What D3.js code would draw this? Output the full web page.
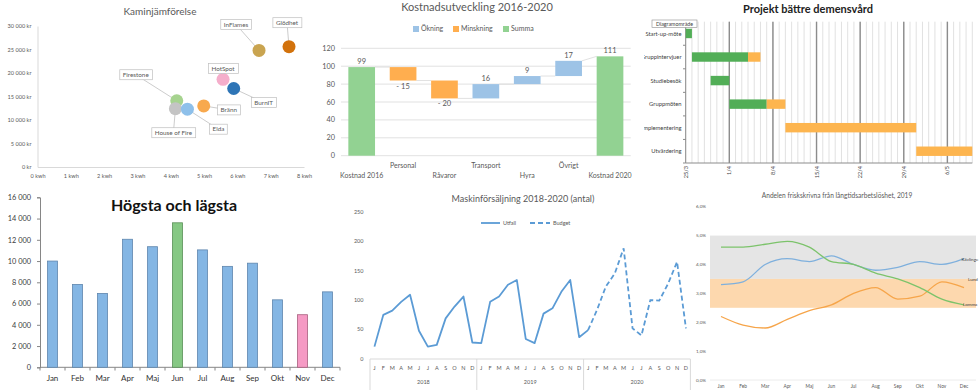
<!DOCTYPE html>
<html lang="sv">
<head>
<meta charset="utf-8">
<script src="https://d3js.org/d3.v7.min.js" charset="utf-8"></script>
<title>Diagram</title>
<style>
 body { margin: 0; background: #fff; }
 svg { display: block; font-family: Lato, "Open Sans", sans-serif; }
</style>
</head>
<body>
<svg width="980" height="390"></svg>
<script>
// ---- data: Kaminjämförelse
var stoves = ["InFlames", "Glödhet", "HotSpot", "BurnIT", "Bränn", "Firestone", "House of Fire", "Elda"];
var stoveKwh = [6.65, 7.55, 5.57, 5.89, 4.99, 4.18, 4.14, 4.5];
var stovePrice = [24800, 25600, 18650, 16700, 13000, 14100, 12400, 12300];

// ---- data: Kostnadsutveckling
var wfCats = ["Kostnad 2016", "Personal", "Råvaror", "Transport", "Hyra", "Övrigt", "Kostnad 2020"];
var wfValues = [99, -15, -20, 16, 9, 17, 111];
var wfTypes = ["Summa", "Minskning", "Minskning", "Ökning", "Ökning", "Ökning", "Summa"];
var wfLegend = ["Ökning", "Minskning", "Summa"];

// ---- data: Projekt bättre demensvård
var tasks = ["Start-up-möte", "Gruppintervjuer", "Studiebesök", "Gruppmöten", "Implementering", "Utvärdering"];
var taskStart = ["2020-03-25", "2020-03-26", "2020-03-29", "2020-04-01", "2020-04-10", "2020-05-01"];
var taskDone = [1, 9, 3, 6, 0, 0];
var taskLeft = [0, 2, 0, 3, 21, 9];

// ---- data: Högsta och lägsta
var months = ["Jan", "Feb", "Mar", "Apr", "Maj", "Jun", "Jul", "Aug", "Sep", "Okt", "Nov", "Dec"];
var monthValues = [10000, 7800, 6950, 12050, 11350, 13600, 11050, 9500, 9800, 6350, 4950, 7100];

// ---- data: Maskinförsäljning
var salesMonths = ["J", "F", "M", "A", "M", "J", "J", "A", "S", "O", "N", "D"];
var salesYears = ["2018", "2019", "2020"];
var utfall = [21, 75, 82, 97, 109, 48, 21, 24, 69, 89, 106, 28,
              27, 97, 106, 126, 134, 34, 27, 77, 86, 114, 134, 37,
              49];
var budget = [49, 83, 123, 145, 188, 52, 40, 100, 99, 128, 165, 52];

// ---- data: Andelen friskskrivna
var rateMonths = ["Jan", "Feb", "Mar", "Apr", "Maj", "Jun", "Jul", "Aug", "Sep", "Okt", "Nov", "Dec"];
var rateNames = ["Kävlinge", "Lund", "Lomma"];
var kavlinge = [3.3, 3.4, 4.0, 4.2, 4.1, 4.3, 4.0, 3.8, 3.9, 4.1, 4.0, 4.2];
var lund = [2.2, 1.9, 1.8, 2.1, 2.4, 2.6, 3.0, 3.2, 2.8, 2.9, 3.4, 3.2];
var lomma = [4.6, 4.6, 4.7, 4.8, 4.6, 4.1, 4.0, 3.7, 3.5, 3.2, 2.8, 2.6];
var grayBand = [3.5, 5.0];
var orangeBand = [2.5, 3.5];

var svg = d3.select("svg");
var sv = d3.formatLocale({decimal: ",", thousands: " ", grouping: [3], currency: ["", " kr"]});
var fmtThousands = sv.format(",");
var grey = "#595959";

// =============== 1. Kaminjämförelse (bubble scatter)
var g1 = svg.append("g");
var x1 = d3.scaleLinear().domain([0, 8]).range([37.5, 304]);
var y1 = d3.scaleLinear().domain([0, 30000]).range([167, 26]);
var stoveColors = ["#c9a450", "#d2720c", "#f5aecb", "#2e75b6", "#f8a94e", "#a6d38f", "#c4c4c4", "#8ec0ea"];
var stoveLabelOffset = [[-23, -26], [-2, -24], [0, -11], [30, 14], [25, 4], [-41, -26], [-2, 24], [31, 20]];

g1.append("text").attr("x", 160).attr("y", 15).attr("text-anchor", "middle")
  .style("font-size", "10px").attr("fill", grey).text("Kaminjämförelse");

var ax1 = g1.append("g").attr("transform", "translate(37.5,0)")
  .call(d3.axisLeft(y1).tickValues(d3.range(0, 30001, 5000)).tickSize(0).tickPadding(6)
    .tickFormat(function(d) { return fmtThousands(d) + " kr"; }));
var bx1 = g1.append("g").attr("transform", "translate(0,167)")
  .call(d3.axisBottom(x1).ticks(8).tickSize(0).tickPadding(7)
    .tickFormat(function(d) { return d + " kwh"; }));
[ax1, bx1].forEach(function(a) {
  a.select(".domain").attr("stroke", "#d9d9d9");
  a.selectAll("text").attr("fill", grey).style("font-size", "5.6px").style("font-family", "Lato, sans-serif");
});

var stoveData = stoves.map(function(n, i) {
  return {name: n, kwh: stoveKwh[i], price: stovePrice[i], color: stoveColors[i], off: stoveLabelOffset[i]};
});

g1.selectAll(".leader").data(stoveData).enter().append("line")
  .attr("x1", function(d) { return x1(d.kwh); })
  .attr("y1", function(d) { return y1(d.price); })
  .attr("x2", function(d) { return x1(d.kwh) + d.off[0]; })
  .attr("y2", function(d) { return y1(d.price) + d.off[1]; })
  .attr("stroke", "#bfbfbf").attr("stroke-width", 0.8);

g1.selectAll(".bubble").data(stoveData).enter().append("circle")
  .attr("cx", function(d) { return x1(d.kwh); })
  .attr("cy", function(d) { return y1(d.price); })
  .attr("r", 6.5)
  .attr("fill", function(d) { return d.color; });

var lab1 = g1.selectAll(".lab").data(stoveData).enter().append("g")
  .attr("transform", function(d) { return "translate(" + (x1(d.kwh) + d.off[0]) + "," + (y1(d.price) + d.off[1]) + ")"; });
lab1.append("text").attr("text-anchor", "middle").attr("dy", "0.35em")
  .style("font-size", "6.3px").attr("fill", grey).text(function(d) { return d.name; });
lab1.each(function() {
  var gg = d3.select(this), bb = gg.select("text").node().getBBox();
  gg.insert("rect", "text").attr("x", bb.x - 3).attr("y", -5).attr("width", bb.width + 6).attr("height", 10)
    .attr("fill", "#fff").attr("stroke", "#bfbfbf").attr("stroke-width", 0.7);
});

// =============== 2. Kostnadsutveckling (waterfall)
var g2 = svg.append("g");
var x2 = d3.scaleBand().domain(wfCats).range([341, 630.7]).paddingInner(0.355).paddingOuter(0.1775);
var y2 = d3.scaleLinear().domain([0, 120]).range([155.7, 48.3]);
var wfColor = {"Ökning": "#9dc3e6", "Minskning": "#ffae4f", "Summa": "#92d292"};

var run = 0;
var wf = wfCats.map(function(c, i) {
  var v = wfValues[i], d = {cat: c, type: wfTypes[i], value: v};
  if (wfTypes[i] === "Summa") { d.start = 0; d.end = v; run = v; }
  else { d.start = run; d.end = run + v; run = d.end; }
  return d;
});

g2.append("text").attr("x", 477).attr("y", 11).attr("text-anchor", "middle")
  .style("font-size", "11px").attr("fill", grey).text("Kostnadsutveckling 2016-2020");

var leg2 = g2.selectAll(".leg").data(wfLegend).enter().append("g")
  .attr("transform", function(d, i) { return "translate(" + [416, 456, 506][i] + ",29)"; });
leg2.append("rect").attr("x", -3).attr("y", -3).attr("width", 6).attr("height", 6)
  .attr("fill", function(d) { return wfColor[d]; });
leg2.append("text").attr("x", 5).attr("dy", "0.35em").style("font-size", "7px").attr("fill", grey)
  .text(function(d) { return d; });

g2.selectAll(".grid").data(y2.ticks(6)).enter().append("line")
  .attr("x1", 341).attr("x2", 630.7)
  .attr("y1", function(d) { return y2(d); }).attr("y2", function(d) { return y2(d); })
  .attr("stroke", "#d9d9d9").attr("stroke-width", 0.8);

g2.selectAll(".ylab").data(y2.ticks(6)).enter().append("text")
  .attr("x", 335).attr("y", function(d) { return y2(d); }).attr("dy", "0.35em")
  .attr("text-anchor", "end").style("font-size", "7.3px").attr("fill", grey).text(function(d) { return d; });

g2.selectAll(".conn").data(wf.slice(0, -1)).enter().append("line")
  .attr("x1", function(d) { return x2(d.cat) + x2.bandwidth(); })
  .attr("x2", function(d, i) { return x2(wf[i + 1].cat); })
  .attr("y1", function(d) { return y2(d.end); })
  .attr("y2", function(d, i) { return y2(wf[i + 1].type === "Summa" ? wf[i + 1].end : wf[i + 1].start); })
  .attr("stroke", "#d9d9d9").attr("stroke-width", 0.8);

g2.selectAll(".bar").data(wf).enter().append("rect")
  .attr("x", function(d) { return x2(d.cat); })
  .attr("width", x2.bandwidth())
  .attr("y", function(d) { return y2(Math.max(d.start, d.end)); })
  .attr("height", function(d) { return Math.abs(y2(d.start) - y2(d.end)); })
  .attr("fill", function(d) { return wfColor[d.type]; });

g2.selectAll(".vlab").data(wf).enter().append("text")
  .attr("x", function(d) { return x2(d.cat) + x2.bandwidth() / 2; })
  .attr("y", function(d) { return d.value < 0 ? y2(d.end) + 8 : y2(d.end) - 3; })
  .attr("text-anchor", "middle").style("font-size", "7.5px").attr("fill", grey)
  .text(function(d) { return d.value < 0 ? "- " + (-d.value) : d.value; });

g2.selectAll(".clab").data(wfCats).enter().append("text")
  .attr("x", function(d) { return x2(d) + x2.bandwidth() / 2; })
  .attr("y", function(d, i) { return i % 2 === 0 ? 178 : 168; })
  .attr("text-anchor", "middle").style("font-size", "7px").attr("fill", grey).text(function(d) { return d; });

// =============== 3. Projekt bättre demensvård (Gantt)
svg.append("clipPath").attr("id", "clip3").append("rect")
  .attr("x", 644).attr("y", 0).attr("width", 336).attr("height", 185);
var g3 = svg.append("g").attr("clip-path", "url(#clip3)");
var parseDay = d3.timeParse("%Y-%m-%d");
var t0 = parseDay(taskStart[0]), t1 = d3.timeDay.offset(t0, 46);
var x3 = d3.scaleTime().domain([t0, t1]).range([685.7, 972.3]);
var y3 = d3.scaleBand().domain(tasks).range([21.7, 163]).paddingInner(0.6).paddingOuter(0.3);

g3.append("text").attr("x", 808).attr("y", 13).attr("text-anchor", "middle")
  .style("font-size", "11px").style("font-weight", "bold").attr("fill", "#222").text("Projekt bättre demensvård");

var days = d3.timeDay.range(t0, d3.timeDay.offset(t1, 1));
g3.selectAll(".dline").data(days).enter().append("line")
  .attr("x1", function(d) { return x3(d); }).attr("x2", function(d) { return x3(d); })
  .attr("y1", 21.7).attr("y2", 163).attr("stroke", "#d9d9d9").attr("stroke-width", 0.8);
var weeks = d3.timeDay.range(t0, t1, 7);
g3.selectAll(".wline").data(weeks.slice(1)).enter().append("line")
  .attr("x1", function(d) { return x3(d); }).attr("x2", function(d) { return x3(d); })
  .attr("y1", 21.7).attr("y2", 163).attr("stroke", "#8c8c8c").attr("stroke-width", 1.4);

g3.append("line").attr("x1", 685.7).attr("x2", 685.7).attr("y1", 21.7).attr("y2", 163).attr("stroke", "#8c8c8c");
g3.append("line").attr("x1", 685.7).attr("x2", 972.3).attr("y1", 163).attr("y2", 163).attr("stroke", "#8c8c8c");
g3.selectAll(".ytick").data(d3.range(tasks.length + 1)).enter().append("line")
  .attr("x1", 683).attr("x2", 685.7)
  .attr("y1", function(i) { return 21.7 + i * y3.step(); }).attr("y2", function(i) { return 21.7 + i * y3.step(); })
  .attr("stroke", "#8c8c8c");

var taskData = tasks.map(function(t, i) {
  return {task: t, start: parseDay(taskStart[i]), done: taskDone[i], left: taskLeft[i]};
});
g3.selectAll(".done").data(taskData.filter(function(d) { return d.done > 0; })).enter().append("rect")
  .attr("x", function(d) { return x3(d.start); })
  .attr("width", function(d) { return x3(d3.timeDay.offset(d.start, d.done)) - x3(d.start); })
  .attr("y", function(d) { return y3(d.task); }).attr("height", y3.bandwidth())
  .attr("fill", "#52ae57");
g3.selectAll(".left").data(taskData.filter(function(d) { return d.left > 0; })).enter().append("rect")
  .attr("x", function(d) { return x3(d3.timeDay.offset(d.start, d.done)); })
  .attr("width", function(d) { return x3(d3.timeDay.offset(d.start, d.done + d.left)) - x3(d3.timeDay.offset(d.start, d.done)); })
  .attr("y", function(d) { return y3(d.task); }).attr("height", y3.bandwidth())
  .attr("fill", "#fdb54f");

g3.selectAll(".tlab").data(tasks).enter().append("text")
  .attr("x", 681.5).attr("y", function(d) { return y3(d) + y3.bandwidth() / 2; }).attr("dy", "0.35em")
  .attr("text-anchor", "end").style("font-size", "5.8px").attr("fill", "#404040").text(function(d) { return d; });

var fmtDay = d3.timeFormat("%-d/%-m");
g3.selectAll(".xlab").data(weeks).enter().append("text")
  .attr("transform", function(d) { return "translate(" + x3(d) + ",166) rotate(-90)"; })
  .attr("dy", "0.35em").attr("text-anchor", "end")
  .style("font-size", "5.6px").attr("fill", "#404040").text(fmtDay);

// hover tag left in the screenshot
var tag = g3.append("g").attr("transform", "translate(652,20)");
tag.append("rect").attr("width", 45).attr("height", 7.5).attr("fill", "#fff").attr("stroke", "#8c8c8c").attr("stroke-width", 0.6);
tag.append("text").attr("x", 22.5).attr("y", 3.9).attr("dy", "0.35em").attr("text-anchor", "middle")
  .style("font-size", "5.3px").attr("fill", "#404040").text("Diagramområde");

// =============== 4. Högsta och lägsta (bars)
var g4 = svg.append("g");
var x4 = d3.scaleBand().domain(months).range([40, 340]).paddingInner(0.6).paddingOuter(0.3);
var y4 = d3.scaleLinear().domain([0, 16000]).range([367.3, 197.3]);
var maxV = d3.max(monthValues), minV = d3.min(monthValues);

var ax4 = g4.append("g").attr("transform", "translate(40,0)")
  .call(d3.axisLeft(y4).tickValues(d3.range(0, 16001, 2000)).tickSize(3).tickPadding(6).tickFormat(fmtThousands));
ax4.selectAll("line, .domain").attr("stroke", "#868686");
ax4.selectAll("text").attr("fill", "#404040").style("font-size", "7.4px").style("font-family", "Lato, sans-serif");

g4.append("line").attr("x1", 40).attr("x2", 340).attr("y1", 367.3).attr("y2", 367.3).attr("stroke", "#868686");
g4.selectAll(".xt").data(d3.range(months.length + 1)).enter().append("line")
  .attr("x1", function(i) { return 40 + i * x4.step(); }).attr("x2", function(i) { return 40 + i * x4.step(); })
  .attr("y1", 367.3).attr("y2", 370.5).attr("stroke", "#868686");

g4.append("text").attr("x", 174).attr("y", 211).attr("text-anchor", "middle")
  .style("font-size", "16px").style("font-weight", "bold").attr("fill", "#111").text("Högsta och lägsta");

g4.selectAll(".bar").data(months).enter().append("rect")
  .attr("x", function(d) { return x4(d); }).attr("width", x4.bandwidth())
  .attr("y", function(d, i) { return y4(monthValues[i]); })
  .attr("height", function(d, i) { return 367.3 - y4(monthValues[i]); })
  .attr("fill", function(d, i) { return monthValues[i] === maxV ? "#86c884" : monthValues[i] === minV ? "#f59ac4" : "#84b6e4"; })
  .attr("stroke", function(d, i) { return monthValues[i] === maxV ? "#5a8f58" : monthValues[i] === minV ? "#a8607f" : "#5f86ad"; })
  .attr("stroke-width", 0.8);

g4.selectAll(".mlab").data(months).enter().append("text")
  .attr("x", function(d) { return x4(d) + x4.bandwidth() / 2; }).attr("y", 378.5).attr("dy", "0.35em")
  .attr("text-anchor", "middle").style("font-size", "8px").attr("fill", "#333").text(function(d) { return d; });

// =============== 5. Maskinförsäljning (line)
var g5 = svg.append("g");
var x5 = d3.scaleBand().domain(d3.range(36)).range([370, 690.4]);
var y5 = d3.scaleLinear().domain([0, 250]).range([359, 211.7]);
var blue = "#5b9bd5";

g5.append("text").attr("x", 523).attr("y", 202).attr("text-anchor", "middle")
  .style("font-size", "9px").attr("fill", grey).text("Maskinförsäljning 2018-2020 (antal)");

g5.append("line").attr("x1", 481).attr("x2", 500).attr("y1", 223).attr("y2", 223).attr("stroke", blue).attr("stroke-width", 1.8);
g5.append("text").attr("x", 503).attr("y", 223).attr("dy", "0.35em").style("font-size", "5.5px").attr("fill", grey).text("Utfall");
g5.append("line").attr("x1", 530).attr("x2", 550).attr("y1", 223).attr("y2", 223).attr("stroke", blue).attr("stroke-width", 1.8).attr("stroke-dasharray", "5,3");
g5.append("text").attr("x", 553).attr("y", 223).attr("dy", "0.35em").style("font-size", "5.5px").attr("fill", grey).text("Budget");

g5.selectAll(".ylab").data(d3.range(0, 251, 50)).enter().append("text")
  .attr("x", 363.5).attr("y", function(d) { return y5(d); }).attr("dy", "0.35em").attr("text-anchor", "end")
  .style("font-size", "5.5px").attr("fill", grey).text(function(d) { return d; });

g5.append("line").attr("x1", 370).attr("x2", 690.4).attr("y1", 359).attr("y2", 359).attr("stroke", "#d9d9d9");
g5.selectAll(".sep").data(d3.range(salesYears.length + 1)).enter().append("line")
  .attr("x1", function(i) { return 370 + i * 12 * x5.step(); }).attr("x2", function(i) { return 370 + i * 12 * x5.step(); })
  .attr("y1", 359).attr("y2", 390).attr("stroke", "#d9d9d9");

g5.selectAll(".mlab").data(d3.range(36)).enter().append("text")
  .attr("x", function(i) { return x5(i) + x5.bandwidth() / 2; }).attr("y", 368.3).attr("dy", "0.35em")
  .attr("text-anchor", "middle").style("font-size", "5.5px").attr("fill", grey)
  .text(function(i) { return salesMonths[i % 12]; });
g5.selectAll(".ylab2").data(salesYears).enter().append("text")
  .attr("x", function(d, i) { return 370 + (i + 0.5) * 12 * x5.step(); }).attr("y", 381.7).attr("dy", "0.35em")
  .attr("text-anchor", "middle").style("font-size", "5.5px").attr("fill", grey).text(function(d) { return d; });

var line5 = d3.line()
  .x(function(d) { return x5(d[0]) + x5.bandwidth() / 2; })
  .y(function(d) { return y5(d[1]); });
g5.append("path").datum(utfall.map(function(v, i) { return [i, v]; }))
  .attr("d", line5).attr("fill", "none").attr("stroke", blue).attr("stroke-width", 1.8).attr("stroke-linejoin", "round");
g5.append("path").datum(budget.map(function(v, i) { return [24 + i, v]; }))
  .attr("d", line5).attr("fill", "none").attr("stroke", blue).attr("stroke-width", 1.8).attr("stroke-dasharray", "5,3");

// =============== 6. Andelen friskskrivna (lines with bands)
var g6 = svg.append("g");
var x6 = d3.scalePoint().domain(rateMonths).range([721, 964]);
var y6 = d3.scaleLinear().domain([0, 6]).range([380, 206.7]);
var rateSeries = [kavlinge, lund, lomma];
var rateColors = ["#7fb0dd", "#f6a54a", "#7cc36b"];
var rateLabelOffset = [[-2.5, 0.5], [4, -8], [-1, 0]];

g6.append("text").attr("x", 837).attr("y", 198).attr("text-anchor", "middle")
  .style("font-size", "6.6px").attr("fill", grey).text("Andelen friskskrivna från långtidsarbetslöshet, 2019");

g6.append("rect").attr("x", 710).attr("width", 266)
  .attr("y", y6(grayBand[1])).attr("height", y6(grayBand[0]) - y6(grayBand[1])).attr("fill", "#e5e5e5");
g6.append("rect").attr("x", 710).attr("width", 266)
  .attr("y", y6(orangeBand[1])).attr("height", y6(orangeBand[0]) - y6(orangeBand[1])).attr("fill", "#fdd8ae");

g6.append("line").attr("x1", 710).attr("x2", 976).attr("y1", y6(0)).attr("y2", y6(0)).attr("stroke", "#ececec");

g6.selectAll(".ylab").data(d3.range(0, 7)).enter().append("text")
  .attr("x", 706).attr("y", function(d) { return y6(d); }).attr("dy", "0.35em").attr("text-anchor", "end")
  .style("font-size", "4.6px").attr("fill", grey).text(function(d) { return d + ",0%"; });
g6.selectAll(".mlab").data(rateMonths).enter().append("text")
  .attr("x", function(d) { return x6(d); }).attr("y", 386).attr("dy", "0.35em").attr("text-anchor", "middle")
  .style("font-size", "4.8px").attr("fill", grey).text(function(d) { return d; });

var line6 = d3.line().curve(d3.curveMonotoneX)
  .x(function(d, i) { return x6(rateMonths[i]); })
  .y(function(d) { return y6(d); });
g6.selectAll(".rline").data(rateSeries).enter().append("path")
  .attr("d", line6).attr("fill", "none")
  .attr("stroke", function(d, i) { return rateColors[i]; }).attr("stroke-width", 1.3);

g6.selectAll(".rlab").data(rateNames).enter().append("text")
  .attr("x", function(d, i) { return x6("Dec") + rateLabelOffset[i][0]; })
  .attr("y", function(d, i) { return y6(rateSeries[i][11]) + rateLabelOffset[i][1]; })
  .attr("dy", "0.35em").style("font-size", "4.5px").attr("fill", "#404040").text(function(d) { return d; });
</script>
</body>
</html>
